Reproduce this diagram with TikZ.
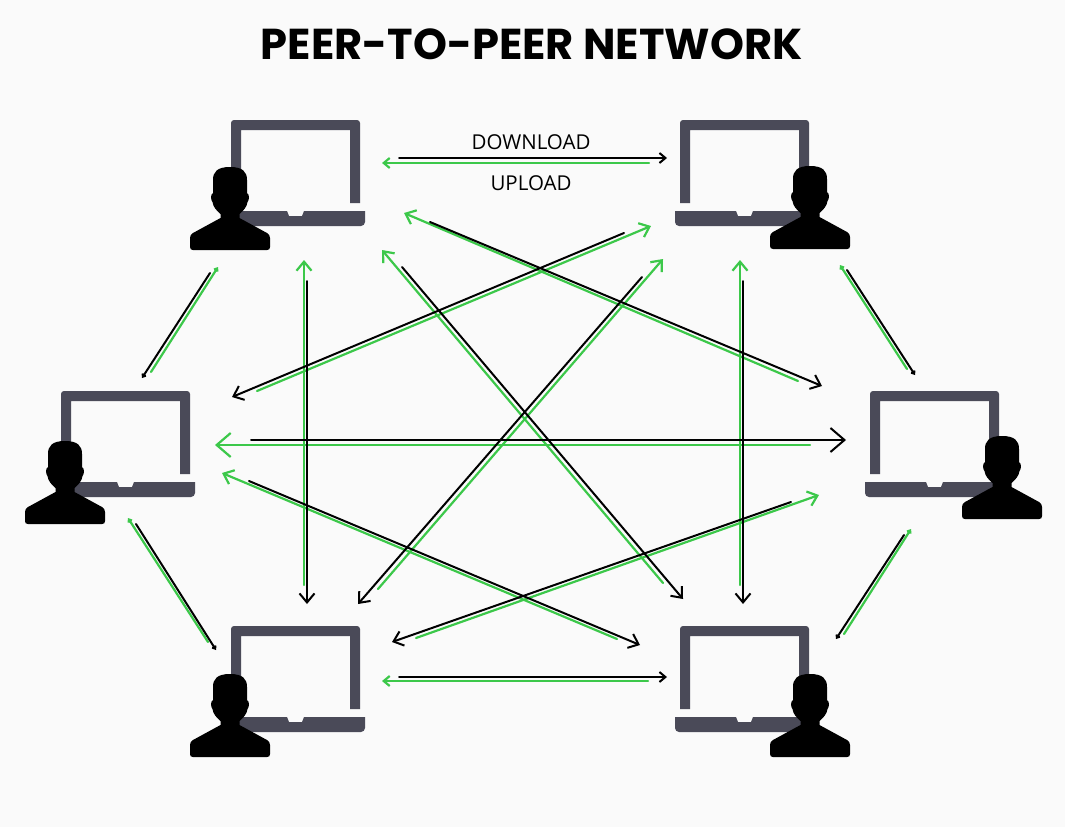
\documentclass[tikz,border=0pt]{standalone}
\usepackage{fontspec}
\setmainfont{Open Sans}
\newfontfamily\titlefont{Poppins}[BoldFont={Poppins Bold}]
\usetikzlibrary{arrows.meta}
\usetikzlibrary{positioning}

\definecolor{paper}{HTML}{FAFAFA}
\definecolor{laptopgray}{HTML}{4A4A58}
\definecolor{upgreen}{HTML}{3CC84A}

\tikzset{
  downline/.style={draw=black, line width=2pt, line cap=round, ->},
  upline/.style={draw=upgreen, line width=2.2pt, line cap=round, ->},
  midtip/.style={>={Straight Barb[length=9pt,width=15pt]}},
  bigtip/.style={>={Straight Barb[length=14pt,width=24pt]}},
  smalltip/.style={>={Straight Barb[length=6pt,width=10pt]}},
  tinytip/.style={>={Straight Barb[length=2.5pt,width=4pt]}},
  pics/laptop/.style={code={
    \fill [laptopgray] (0,83) [rounded corners=3pt] -- (0,0) -- (129,0) -- (129,20) [sharp corners] -- (129,83)
      -- (119,83) -- (119,10) -- (10,10) -- (10,83) -- cycle;
    \fill [laptopgray] (-5,91) -- (56,91) -- (58,96) -- (71,96) -- (73,91) -- (134,91)
      [rounded corners=4pt] -- (134,106) -- (-5,106) -- (-5,95) [sharp corners] -- cycle;
  }},
  pics/person/.style={code={
    \fill [black] (0,0) .. controls (13,0) and (17,5) .. (17,13) -- (17,26)
      .. controls (19.5,27) and (19.5,33) .. (17.5,35)
      .. controls (17,40) and (13,44) .. (9.5,47) -- (9.5,51)
      -- (37,66) .. controls (39,67) and (40,69) .. (40,71) -- (40,80)
      .. controls (40,82) and (39,83) .. (37,83) -- (-37,83)
      .. controls (-39,83) and (-40,82) .. (-40,80) -- (-40,71)
      .. controls (-40,69) and (-39,67) .. (-37,66)
      -- (-9.5,51) -- (-9.5,47)
      .. controls (-13,44) and (-17,40) .. (-17.5,35)
      .. controls (-19.5,33) and (-19.5,27) .. (-17,26) -- (-17,13)
      .. controls (-17,5) and (-13,0) .. (0,0) -- cycle;
  }},
}

\begin{document}
\begin{tikzpicture}[x=1pt,y=-1pt]
    \fill [paper] (0,0) rectangle (1065,827);

    \node (title) at (531.5,44) {\titlefont\bfseries\fontsize{43.2}{43.2}\selectfont PEER-TO-PEER NETWORK};
    \node (dltxt) at (531,142) {\fontsize{20.5}{20.5}\selectfont DOWNLOAD};
    \node (uptxt) [below=19pt of dltxt] {\fontsize{20.5}{20.5}\selectfont UPLOAD};

    % laptops
    \pic (lapa) at (231,120) {laptop};
    \pic (lapb) at (680,120) {laptop};
    \pic (lapc) at (61,391) {laptop};
    \pic (lapd) at (870,391) {laptop};
    \pic (lape) at (231,626) {laptop};
    \pic (lapf) at (680,626) {laptop};

    % people
    \pic (mana) at (230,167) {person};
    \pic (manb) at (810,166) {person};
    \pic (manc) at (65,441) {person};
    \pic (mand) at (1002,436) {person};
    \pic (mane) at (230,674) {person};
    \pic (manf) at (810,674) {person};

    % arrow ends
    \coordinate (abd1) at (399,158); \coordinate (abd2) at (667,158);
    \coordinate (abu1) at (649,163); \coordinate (abu2) at (382,163);
    \coordinate (efd1) at (399,677); \coordinate (efd2) at (667,677);
    \coordinate (efu1) at (648,681); \coordinate (efu2) at (382,681);
    \coordinate (acd1) at (210,273); \coordinate (acd2) at (142,378);
    \coordinate (acu1) at (151,372); \coordinate (acu2) at (218,267);
    \coordinate (bdd1) at (847,270); \coordinate (bdd2) at (915,375);
    \coordinate (bdu1) at (907,369); \coordinate (bdu2) at (840,265);
    \coordinate (ced1) at (136,524); \coordinate (ced2) at (216,650);
    \coordinate (ceu1) at (208,642); \coordinate (ceu2) at (128,518);
    \coordinate (dfd1) at (904,535); \coordinate (dfd2) at (836,639);
    \coordinate (dfu1) at (844,634); \coordinate (dfu2) at (911,529);
    \coordinate (aed1) at (307,281); \coordinate (aed2) at (307,604);
    \coordinate (aeu1) at (304,585); \coordinate (aeu2) at (304,260);
    \coordinate (bfd1) at (743,281); \coordinate (bfd2) at (743,604);
    \coordinate (bfu1) at (740,585); \coordinate (bfu2) at (740,260);
    \coordinate (add1) at (430,222); \coordinate (add2) at (822,386);
    \coordinate (adu1) at (798,381); \coordinate (adu2) at (404,213);
    \coordinate (afd1) at (402,267); \coordinate (afd2) at (683,599);
    \coordinate (afu1) at (663,583); \coordinate (afu2) at (382,250);
    \coordinate (bcd1) at (624,233); \coordinate (bcd2) at (232,397);
    \coordinate (bcu1) at (257,391); \coordinate (bcu2) at (651,226);
    \coordinate (bed1) at (642,277); \coordinate (bed2) at (358,604);
    \coordinate (beu1) at (378,589); \coordinate (beu2) at (663,259);
    \coordinate (cdd1) at (251,440); \coordinate (cdd2) at (846,440);
    \coordinate (cdu1) at (810,445); \coordinate (cdu2) at (215,445);
    \coordinate (cfd1) at (249,481); \coordinate (cfd2) at (640,645);
    \coordinate (cfu1) at (617,639); \coordinate (cfu2) at (222,473);
    \coordinate (ded1) at (791,502); \coordinate (ded2) at (392,642);
    \coordinate (deu1) at (416,638); \coordinate (deu2) at (819,495);

    % uploads
    \path [smalltip] (abu1) edge[upline] (abu2);
    \path [smalltip] (efu1) edge[upline] (efu2);
    \path [tinytip] (acu1) edge[upline] (acu2);
    \path [tinytip] (bdu1) edge[upline] (bdu2);
    \path [tinytip] (ceu1) edge[upline] (ceu2);
    \path [tinytip] (dfu1) edge[upline] (dfu2);
    \path [midtip] (aeu1) edge[upline] (aeu2);
    \path [midtip] (bfu1) edge[upline] (bfu2);
    \path [midtip] (adu1) edge[upline] (adu2);
    \path [midtip] (afu1) edge[upline] (afu2);
    \path [midtip] (bcu1) edge[upline] (bcu2);
    \path [midtip] (beu1) edge[upline] (beu2);
    \path [bigtip] (cdu1) edge[upline] (cdu2);
    \path [midtip] (cfu1) edge[upline] (cfu2);
    \path [midtip] (deu1) edge[upline] (deu2);

    % downloads
    \path [smalltip] (abd1) edge[downline] (abd2);
    \path [smalltip] (efd1) edge[downline] (efd2);
    \path [tinytip] (acd1) edge[downline] (acd2);
    \path [tinytip] (bdd1) edge[downline] (bdd2);
    \path [tinytip] (ced1) edge[downline] (ced2);
    \path [tinytip] (dfd1) edge[downline] (dfd2);
    \path [midtip] (aed1) edge[downline] (aed2);
    \path [midtip] (bfd1) edge[downline] (bfd2);
    \path [midtip] (add1) edge[downline] (add2);
    \path [midtip] (afd1) edge[downline] (afd2);
    \path [midtip] (bcd1) edge[downline] (bcd2);
    \path [midtip] (bed1) edge[downline] (bed2);
    \path [bigtip] (cdd1) edge[downline] (cdd2);
    \path [midtip] (cfd1) edge[downline] (cfd2);
    \path [midtip] (ded1) edge[downline] (ded2);
\end{tikzpicture}
\end{document}
